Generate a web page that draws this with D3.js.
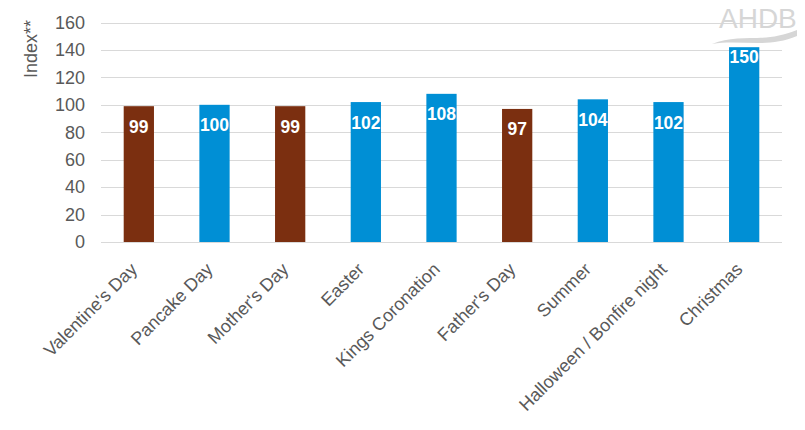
<!DOCTYPE html>
<html><head><meta charset="utf-8">
<script src="https://cdn.jsdelivr.net/npm/d3@7"></script>
<style>body{margin:0;background:#fff}svg{display:block;font-family:"Liberation Sans",Arial,sans-serif}</style>
</head><body><svg id="c" width="805" height="430"></svg>
<script>
const categories = ["Valentine's Day","Pancake Day","Mother's Day","Easter","Kings Coronation","Father's Day","Summer","Halloween / Bonfire night","Christmas"];
const values = [99,100,99,102,108,97,104,102,142];
const dataLabels = ["99","100","99","102","108","97","104","102","150"];
const seriesType = ["brown","blue","brown","blue","blue","brown","blue","blue","blue"];
const yTicks = [0,20,40,60,80,100,120,140,160];
const yTitle = "Index**";

const colors = {brown:"#7B2F10", blue:"#008FD5"};
const svg = d3.select("#c");
const m = {l:101, r:23, t:23, b:188};
const W = 805, H = 430;
const x = d3.scaleBand().domain(categories).range([m.l, W-m.r]).paddingInner(0.6).paddingOuter(0.3);
const y = d3.scaleLinear().domain([0,160]).range([242, 22.5]);

// gridlines
svg.append("g").selectAll("line").data(yTicks).join("line")
  .attr("x1", m.l).attr("x2", W-m.r)
  .attr("y1", d=>Math.round(y(d))+0.5).attr("y2", d=>Math.round(y(d))+0.5)
  .attr("stroke", "#d9d9d9").attr("stroke-width", 1);

// y axis labels
const ya = svg.append("g").attr("transform", `translate(${m.l},0)`)
  .call(d3.axisLeft(y).tickValues(yTicks).tickSize(0).tickPadding(16));
ya.select(".domain").remove();
ya.selectAll("text").attr("font-size", 18).attr("fill", "#595959").attr("font-family", "Liberation Sans, Arial, sans-serif");

// bars
svg.append("g").selectAll("rect").data(categories).join("rect")
  .attr("x", d=>x(d)).attr("width", x.bandwidth())
  .attr("y", (d,i)=>y(values[i])).attr("height", (d,i)=>y(0)-y(values[i]))
  .attr("fill", (d,i)=>colors[seriesType[i]]);

// data labels (placed by the labelled value)
svg.append("g").selectAll("text").data(categories).join("text")
  .attr("x", d=>x(d)+x.bandwidth()/2)
  .attr("y", (d,i)=>y(+dataLabels[i])+26.5)
  .attr("text-anchor","middle").attr("font-size",17.5).attr("font-weight","bold")
  .attr("fill","#fff").text((d,i)=>dataLabels[i]);

// x axis labels
const xa = svg.append("g").attr("transform", `translate(0,${y(0)})`)
  .call(d3.axisBottom(x).tickSize(0).tickPadding(0));
xa.select(".domain").remove();
xa.selectAll("text")
  .attr("font-size", 18).attr("fill", "#595959").attr("font-family", "Liberation Sans, Arial, sans-serif")
  .attr("text-anchor","end").attr("dy","0.35em")
  .attr("transform","translate(-5,24) rotate(-45)");

// y title
svg.append("text").attr("transform","translate(37,49) rotate(-90)")
  .attr("text-anchor","middle").attr("font-size",18).attr("fill","#595959").text(yTitle);

// logo
const lg = svg.append("g").attr("fill","#d6d6d6");
lg.append("text").attr("x",719).attr("y",28)
  .attr("font-size",28).attr("font-family","Liberation Sans, Arial, sans-serif").text("AHDB");
lg.append("path").attr("d","M712,44 C738,33 764,44 797,30 L797,36 C766,49 740,39 712,44 Z");
</script></body></html>
